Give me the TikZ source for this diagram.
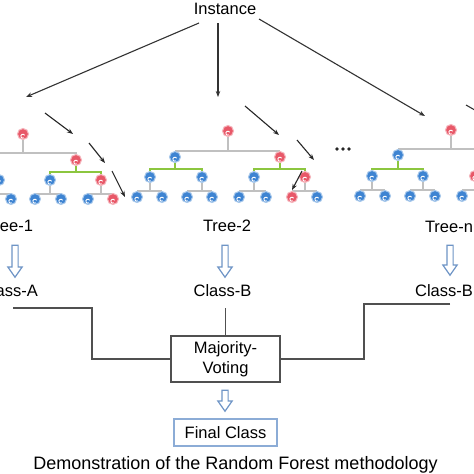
\documentclass[tikz,border=0pt]{standalone}
\usepackage{fontspec}
\setmainfont{Liberation Sans}
\usetikzlibrary{shapes.arrows,arrows.meta}
\pgfdeclarelayer{bg}
\pgfsetlayers{bg,main}
\definecolor{nblue}{RGB}{62,132,210}
\definecolor{nred}{RGB}{232,88,104}
\definecolor{tgray}{RGB}{192,192,192}
\definecolor{tgreen}{RGB}{140,198,63}
\definecolor{lgray}{RGB}{80,80,80}
\definecolor{hblue}{RGB}{110,148,198}
\definecolor{fblue}{RGB}{140,172,214}
\newcommand\tedge[5]{%
  \begin{pgfonlayer}{bg}
  \draw[#5] (#1) -- ++(0,#4) -| (#2);
  \draw[#5] (#1) -- ++(0,#4) -| (#3);
  \end{pgfonlayer}}
\tikzset{
  glyph/.style={path picture={\draw[white,line width=0.9pt]
     ([shift={(1.6pt,-1.2pt)}]path picture bounding box.center) arc[start angle=30,end angle=300,radius=2pt];}},
  bn/.style={circle,inner sep=0pt,minimum size=11pt,fill=nblue,draw=nblue!45,line width=1pt,glyph},
  rn/.style={circle,inner sep=0pt,minimum size=11pt,fill=nred,draw=nred!45,line width=1pt,glyph},
  gl/.style={draw=tgray,line width=2pt},
  gr/.style={draw=tgreen,line width=2pt},
  txt/.style={font=\fontsize{16.5}{20}\selectfont,inner sep=0pt},
  pa/.style={draw=black!85,line width=1.1pt,-{Stealth[length=6pt,width=4.5pt]}},
  ia/.style={draw=black!80,line width=1.1pt,-{Stealth[length=6pt,width=4.5pt]}},
  hol/.style={single arrow,draw=hblue,fill=white,line width=1.2pt,shape border rotate=270,
    inner sep=2.5pt,minimum width=13pt,single arrow head extend=4pt,single arrow tip angle=70},
  cl/.style={draw=lgray,line width=1.3pt},
  dot/.style={circle,fill=black!85,inner sep=0pt,minimum size=3.6pt}
}
\begin{document}
\begin{tikzpicture}[x=1pt,y=-1pt]
\useasboundingbox (0,0) rectangle (474,474);
\clip (0,0) rectangle (474,474);
\begin{pgfonlayer}{bg}
\fill[white] (0,0) rectangle (474,474);
\end{pgfonlayer}
% Instance
\node[txt] (inst) at (225,9) {Instance};
\coordinate (i1s) at (199,23); \coordinate (i1e) at (26,97);
\coordinate (i2s) at (218,23); \coordinate (i2e) at (218,97);
\coordinate (i3s) at (259,19); \coordinate (i3e) at (425,116);
\draw[ia] (i1s) -- (i1e);
\draw[ia] (i2s) -- (i2e);
\draw[ia] (i3s) -- (i3e);
\coordinate (i4s) at (466,105); \coordinate (i4e) at (480,113);
\draw[line width=1.1pt,black!80] (i4s) -- (i4e);
% Tree 1
\node[rn] (a0) at (23,134) {};
\coordinate (a1) at (-30,160);
\node[rn] (a2) at (76,160) {};
\node[bn] (a4) at (-1,180) {};
\node[bn] (a5) at (50,180) {};
\node[rn] (a6) at (101,180) {};
\coordinate (a9) at (-14,199);
\node[bn] (a10) at (11,199) {};
\node[bn] (a11) at (35,199) {};
\node[bn] (a12) at (61,199) {};
\node[bn] (a13) at (88,199) {};
\node[rn] (a14) at (113,199) {};
\tedge{a0}{a1}{a2}{19}{gl}
\tedge{a2}{a5}{a6}{12}{gr}
\tedge{a4}{a9}{a10}{14}{gl}
\tedge{a5}{a11}{a12}{14}{gl}
\tedge{a6}{a13}{a14}{14}{gl}
\coordinate (p1s) at (45,113); \coordinate (p1e) at (73,134);
\coordinate (p2s) at (89,143); \coordinate (p2e) at (105,163);
\coordinate (p3s) at (112,171); \coordinate (p3e) at (125,197);
\draw[pa] (p1s) -- (p1e);
\draw[pa] (p2s) -- (p2e);
\draw[pa] (p3s) -- (p3e);
% Tree 2
\node[rn] (b0) at (228,131) {};
\node[bn] (b1) at (175,157) {};
\node[rn] (b2) at (280,157) {};
\node[bn] (b3) at (150,177) {};
\node[bn] (b4) at (202,177) {};
\node[bn] (b5) at (254,177) {};
\node[rn] (b6) at (305,177) {};
\node[bn] (b7) at (137,197) {};
\node[bn] (b8) at (162,197) {};
\node[bn] (b9) at (187,197) {};
\node[bn] (b10) at (212,197) {};
\node[bn] (b11) at (239,197) {};
\node[bn] (b12) at (266,197) {};
\node[rn] (b13) at (292,197) {};
\node[bn] (b14) at (317,197) {};
\tedge{b0}{b1}{b2}{20}{gl}
\tedge{b1}{b3}{b4}{12}{gr}
\tedge{b2}{b5}{b6}{12}{gr}
\tedge{b3}{b7}{b8}{14}{gl}
\tedge{b4}{b9}{b10}{14}{gl}
\tedge{b5}{b11}{b12}{14}{gl}
\tedge{b6}{b13}{b14}{14}{gl}
\coordinate (q1s) at (245,106); \coordinate (q1e) at (279,135);
\coordinate (q2s) at (297,140); \coordinate (q2e) at (314,160);
\coordinate (q3s) at (302,171); \coordinate (q3e) at (292,190);
\draw[pa] (q1s) -- (q1e);
\draw[pa] (q2s) -- (q2e);
\draw[pa] (q3s) -- (q3e);
% dots
\node[dot] (d1) at (337,149) {};
\node[dot] (d2) at (343,149) {};
\node[dot] (d3) at (349,149) {};
% Tree n
\node[rn] (c0) at (451,130) {};
\node[bn] (c1) at (398,155) {};
\coordinate (c2) at (504,155);
\node[bn] (c3) at (372,176) {};
\node[bn] (c4) at (423,176) {};
\node[rn] (c5) at (475,176) {};
\coordinate (c6) at (530,176);
\node[bn] (c7) at (360,196) {};
\node[bn] (c8) at (385,196) {};
\node[bn] (c9) at (410,196) {};
\node[bn] (c10) at (435,196) {};
\node[bn] (c11) at (462,196) {};
\coordinate (c12) at (488,196);
\tedge{c0}{c1}{c2}{19}{gl}
\tedge{c1}{c3}{c4}{14}{gr}
\tedge{c2}{c5}{c6}{14}{gl}
\tedge{c3}{c7}{c8}{14}{gl}
\tedge{c4}{c9}{c10}{14}{gl}
\tedge{c5}{c11}{c12}{14}{gl}
% Tree labels
\node[txt] (tr1) at (9,226) {Tree-1};
\node[txt] (tr2) at (227,226) {Tree-2};
\node[txt] (trn) at (449,227) {Tree-n};
\node[hol,minimum height=32pt] (h1) at (15,259) {};
\node[hol,minimum height=32pt] (h2) at (225,259) {};
\node[hol,minimum height=30pt] (h3) at (450,258) {};
\node[txt] (ca) at (9,291) {Class-A};
\node[txt] (cb) at (222.5,291) {Class-B};
\node[txt] (cbn) at (444,291) {Class-B};
% Majority voting
\node[txt,draw=lgray,line width=1.2pt,minimum width=109pt,minimum height=46pt,align=center] (mv) at (225.5,359) {Majority-\\Voting};
\coordinate (caL) at (13,308);
\coordinate (cbM) at (225.5,308);
\coordinate (cbR) at (450,304);
\draw[cl] (caL) -- (92,308) |- (mv.west);
\draw[cl] (cbM) -- (mv.north);
\draw[cl] (cbR) -- (364,304) |- (mv.east);
\node[hol,minimum height=21pt] (h4) at (225,398.5) {};
\node[txt,draw=fblue,line width=1.3pt,minimum width=103pt,minimum height=27pt] (fc) at (225.5,432.5) {Final Class};
\node[inner sep=0pt,font=\fontsize{18}{21}\selectfont] (cap) at (235.5,465) {Demonstration of the Random Forest methodology};
\end{tikzpicture}
\end{document}
